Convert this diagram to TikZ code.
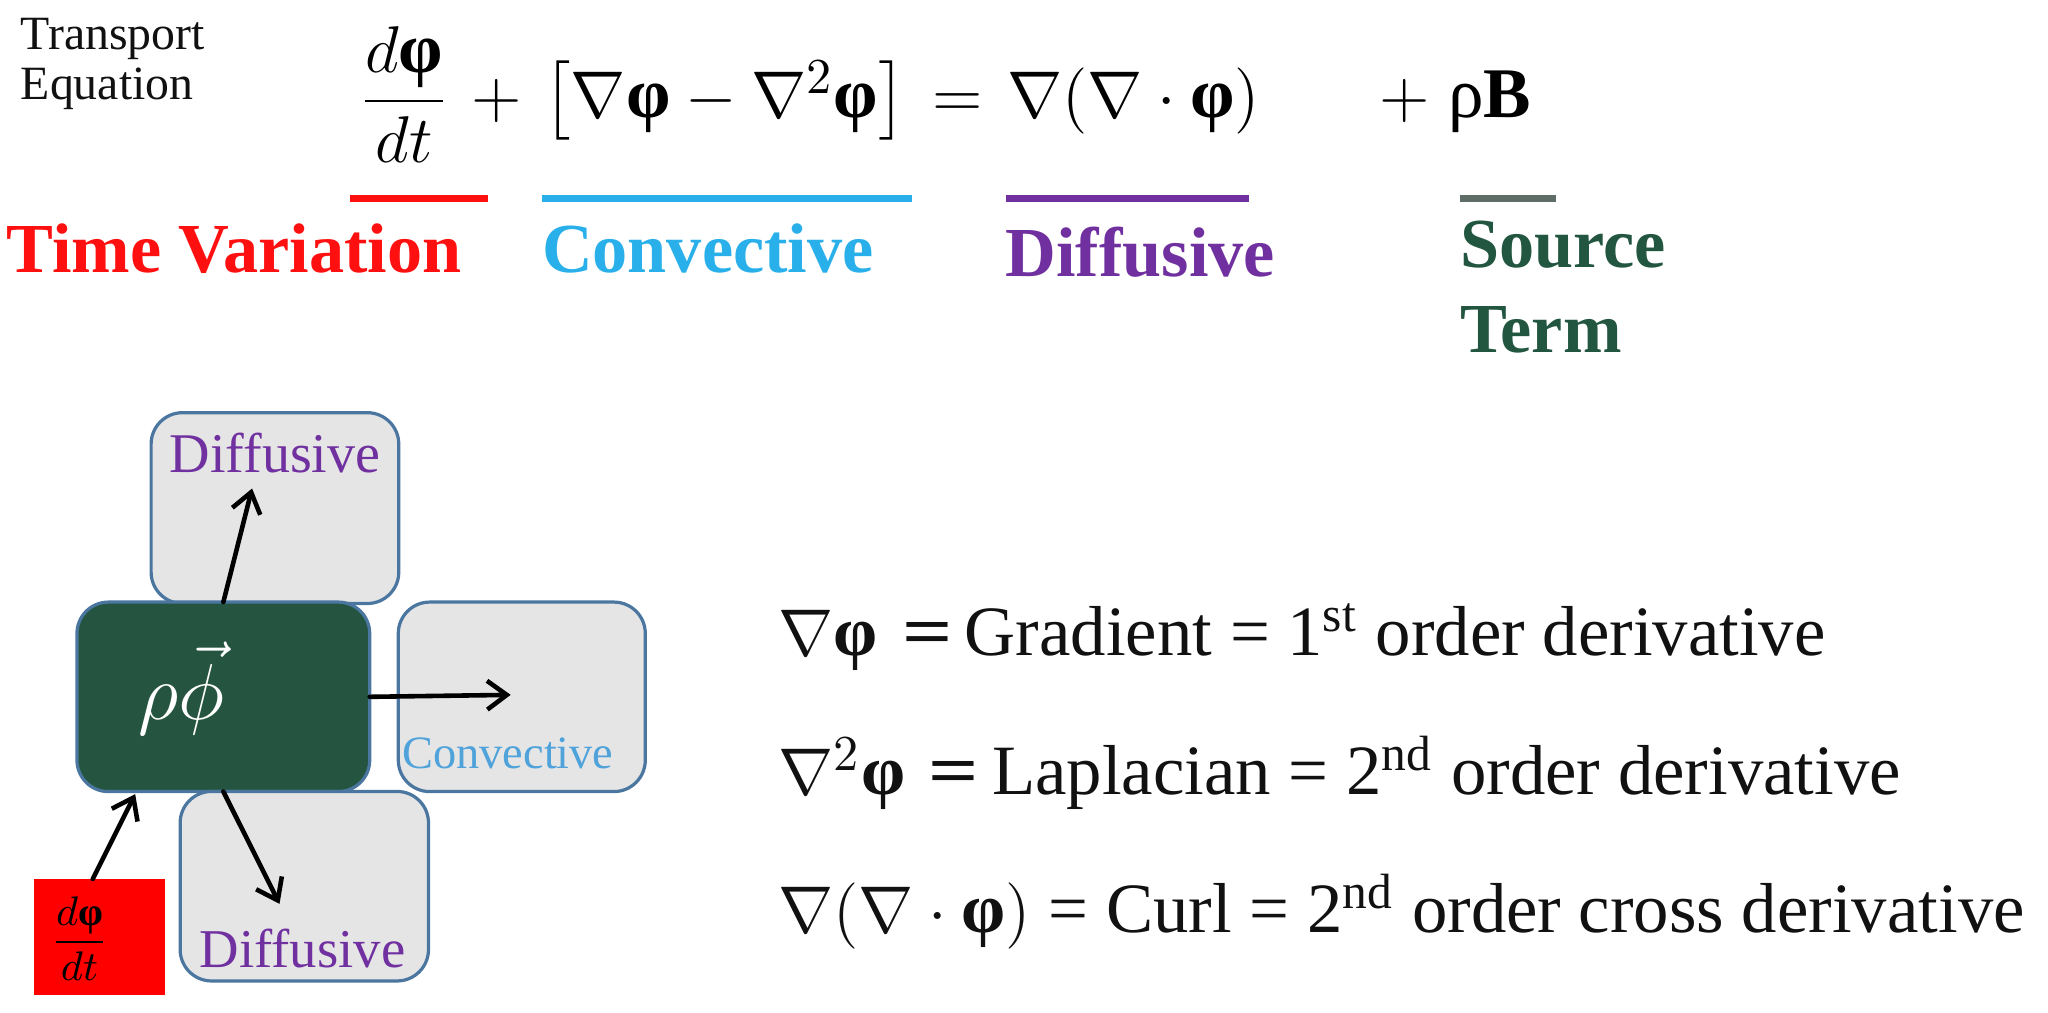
\documentclass[tikz,border=0pt]{standalone}
\usepackage{fontspec}
\setmainfont{Liberation Serif}
\newfontfamily\gk{Liberation Serif}
\usepackage{amsmath}
\usetikzlibrary{arrows.meta,calc}
\definecolor{timered}{HTML}{FF1010}
\definecolor{convcyan}{HTML}{29B0EA}
\definecolor{diffpurple}{HTML}{7030A0}
\definecolor{srcline}{HTML}{5E6E67}
\definecolor{srcgreen}{HTML}{235641}
\definecolor{boxgreen}{HTML}{255540}
\definecolor{boxstroke}{HTML}{4A76A0}
\definecolor{boxfill}{HTML}{E5E5E5}
\definecolor{smallconv}{HTML}{4FA3DA}
\definecolor{inkblack}{HTML}{000000}
\definecolor{softblack}{HTML}{111111}
\newcommand{\bph}{\mbox{\gk\bfseries φ}}
\newcommand{\rph}{\mbox{\gk ρ}}
\newcommand{\beq}{\scalebox{1.25}[1]{\textbf{=}}}
\begin{document}
\begin{tikzpicture}[x=0.01cm,y=-0.01cm,
  every node/.style={inner sep=0pt,outer sep=0pt},
  eqpart/.style={anchor=base,font=\gk\fontsize{15.5}{18}\selectfont},
  termlabel/.style={anchor=base west,font=\gk\fontsize{15.3}{18}\selectfont\bfseries},
  uline/.style={line width=1.6pt},
  tilebox/.style={draw=boxstroke,line width=0.7pt,fill=boxfill,rounded corners=0.24cm},
  tilelabel/.style={anchor=base west,font=\gk\fontsize{12.2}{14}\selectfont},
  flowarrow/.style={line width=1pt,line cap=round,-{Straight Barb[length=1.5mm,width=2.2mm,line width=1pt]}},
  defline/.style={anchor=base west,text=softblack,font=\gk\fontsize{15.4}{18}\selectfont}]
\useasboundingbox (0,0) rectangle (1568,775);
% title
\node[anchor=base west,text=softblack,font=\gk\fontsize{10.4}{12}\selectfont] (title1) at (16,38) {Transport};
\node[anchor=base west,text=softblack,font=\gk\fontsize{10.4}{12}\selectfont] (title2) at (16,76.5) {Equation};
% equation
\node[eqpart] (frac) at (309.5,90) {$\dfrac{d\bph}{dt}$};
\node[eqpart] (plus) at (380.5,90) {$+$};
\node[eqpart,anchor=base west] (conv) at (416,90) {$\bigl[\nabla\bph-\nabla^{2}\bph\bigr]$};
\node[eqpart] (eqs) at (733,90) {$=$};
\node[eqpart,anchor=base west] (diff) at (771,90) {$\nabla(\nabla\cdot\bph)$};
\node[eqpart,anchor=base west] (src) at (1056,90) {$+\;\rph\mathbf{B}$};
% underlines
\draw[uline,timered] (268,152) -- (374,152);
\draw[uline,convcyan] (415,152) -- (698,152);
\draw[uline,diffpurple] (770,152) -- (956,152);
\draw[uline,srcline] (1118,152) -- (1191,152);
% term labels
\node[termlabel,timered] (tv) at (5,209) {Time Variation};
\node[termlabel,convcyan] (cv) at (415,209) {Convective};
\node[termlabel,diffpurple] (df) at (770,212) {Diffusive};
\node[termlabel,srcgreen] (so1) at (1118,205) {Source};
\node[termlabel,srcgreen] (so2) at (1118,270) {Term};
% tiles
\node[tilebox,minimum width=1.895cm,minimum height=1.46cm] (dtop) at (210.5,389) {};
\node[tilebox,fill=boxgreen,minimum width=2.24cm,minimum height=1.45cm] (core) at (171,533.5) {};
\node[tilebox,minimum width=1.89cm,minimum height=1.45cm] (convt) at (399.5,533.5) {};
\node[tilebox,minimum width=1.90cm,minimum height=1.45cm] (dbot) at (233,678.5) {};
\node[fill=red,minimum width=1.00cm,minimum height=0.89cm] (dt) at (76,717.5) {};
% tile labels
\node[tilelabel,diffpurple] (l1) at (130,362) {Diffusive};
\node[tilelabel,smallconv,font=\gk\fontsize{10.1}{12}\selectfont] (l2) at (308,588) {Convective};
\node[tilelabel,diffpurple,font=\gk\fontsize{11.9}{14}\selectfont] (l3) at (153,740.5) {Diffusive};
\node[white,anchor=base west,font=\fontsize{17.5}{20}\selectfont] (rho) at (106,551) {$\rho\vec{\phi}$};
\node[anchor=base,font=\gk\fontsize{8.7}{10}\selectfont] (dtf) at (61,729) {$\dfrac{d\bph}{dt}$};
% arrows
\coordinate (tipU) at (193,374);
\coordinate (tipR) at (391,532);
\coordinate (tipD) at (214,692);
\coordinate (tipI) at (103.5,608);
\coordinate (startI) at (71,673);
\draw[flowarrow] (core.north) -- (tipU);
\draw[flowarrow] (core.east) -- (tipR);
\draw[flowarrow] (core.south) -- (tipD);
\draw[flowarrow] (startI) -- (tipI);
% definitions
\node[defline] (d1) at (596,502) {$\nabla\bph$\hspace{5.5pt}\beq\hspace{2.5pt}Gradient = 1\textsuperscript{st} order derivative};
\node[defline] (d2) at (596,608) {$\nabla^{2}\bph$\hspace{5pt}\beq\hspace{3pt}Laplacian = 2\textsuperscript{nd} order derivative};
\node[defline] (d3) at (596,714) {$\nabla(\nabla\cdot\bph)$ = Curl = 2\textsuperscript{nd} order cross derivative};
\end{tikzpicture}
\end{document}
